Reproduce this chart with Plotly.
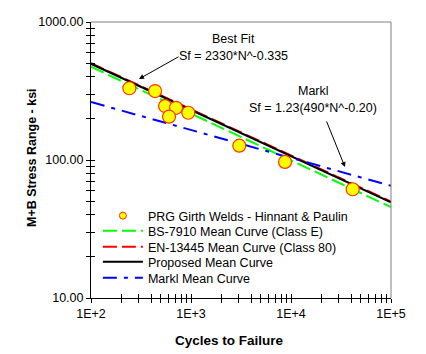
import plotly.graph_objects as go

# Test data: PRG girth welds (Hinnant & Paulin)
data_cycles = [242, 437, 550, 708, 603, 940, 3040, 8710, 41400]
data_stress = [331, 316, 246, 239, 206, 220, 127, 96.8, 61.4]

# Mean curves (endpoints read at N = 1E+2 and 1E+5)
curve_cycles = [100, 100000]
bs7910_stress = [474, 45.5]
en13445_stress = [503, 50.0]
proposed_stress = [498, 49.3]
markl_stress = [263, 65.0]

y_tickvals = [10, 100, 1000]
y_ticktext = ["10.00", "100.00", "1000.00"]
x_tickvals = [100, 1000, 10000, 100000]
x_ticktext = ["1E+2", "1E+3", "1E+4", "1E+5"]
y_minor = [m * 10 ** e for e in (1, 2) for m in range(2, 10)]
x_minor = [m * 10 ** e for e in (2, 3, 4) for m in range(2, 10)]

FONT = "Liberation Sans, Arial, sans-serif"
FS = 12.5

fig = go.Figure()

# legend proxy with small marker (first legend entry)
fig.add_trace(go.Scatter(x=[None], y=[None], mode="markers",
                         name="PRG Girth Welds - Hinnant & Paulin", legend="legend",
                         marker=dict(size=7, color="#FFFF00",
                                     line=dict(color="#FF3300", width=1))))
fig.add_trace(go.Scatter(x=curve_cycles, y=bs7910_stress, mode="lines",
                         name="BS-7910 Mean Curve (Class E)", legend="legend2",
                         line=dict(color="#00FF00", width=2, dash="14px,5px")))
fig.add_trace(go.Scatter(x=curve_cycles, y=en13445_stress, mode="lines",
                         name="EN-13445 Mean Curve (Class 80)", legend="legend3",
                         line=dict(color="#FF0000", width=2, dash="14px,5px")))
fig.add_trace(go.Scatter(x=curve_cycles, y=proposed_stress, mode="lines",
                         name="Proposed Mean Curve", legend="legend4",
                         line=dict(color="#000000", width=2)))
fig.add_trace(go.Scatter(x=curve_cycles, y=markl_stress, mode="lines",
                         name="Markl Mean Curve", legend="legend5",
                         line=dict(color="#0000FF", width=2, dash="14px,7px,4px,7px")))
fig.add_trace(go.Scatter(x=data_cycles, y=data_stress, mode="markers",
                         showlegend=False,
                         marker=dict(size=13, color="#FFFF00",
                                     line=dict(color="#FF3300", width=1.2))))
# invisible trace on overlay axes so they render
fig.add_trace(go.Scatter(x=[None], y=[None], xaxis="x2", yaxis="y2",
                         showlegend=False, hoverinfo="skip"))

axis_common = dict(showgrid=False, zeroline=False, ticklen=4, tickwidth=1,
                   tickcolor="black", automargin=False)


def leg(ypix):
    return dict(x=0.023, y=(298 - ypix) / 276, xanchor="left", yanchor="middle",
                bgcolor="rgba(0,0,0,0)", font=dict(size=FS, family=FONT),
                itemwidth=40)


fig.update_layout(
    width=426, height=354,
    margin=dict(l=91, r=35, t=22, b=56, autoexpand=False),
    paper_bgcolor="white", plot_bgcolor="white",
    font=dict(family=FONT, size=FS, color="black"),
    showlegend=True,
    legend=leg(216), legend2=leg(231), legend3=leg(247),
    legend4=leg(262), legend5=leg(278),
    xaxis=dict(type="log", range=[2, 5], tickvals=x_tickvals, ticktext=x_ticktext,
               ticks="outside", showline=True, linecolor="black", linewidth=1,
               minor=dict(tickvals=x_minor, ticks="outside", ticklen=4,
                          tickcolor="black"),
               **axis_common),
    yaxis=dict(type="log", range=[1, 3], tickvals=y_tickvals, ticktext=y_ticktext,
               ticks="outside", showline=True, linecolor="black", linewidth=1,
               minor=dict(tickvals=y_minor, ticks="outside", ticklen=4,
                          tickcolor="black"),
               **axis_common),
    xaxis2=dict(type="log", range=[2, 5], overlaying="x", anchor="y", side="bottom",
                tickvals=x_tickvals, ticks="inside", showticklabels=False,
                showline=False,
                minor=dict(tickvals=x_minor, ticks="inside", ticklen=4,
                           tickcolor="black"),
                **axis_common),
    yaxis2=dict(type="log", range=[1, 3], overlaying="y", anchor="x", side="left",
                tickvals=y_tickvals, ticks="inside", showticklabels=False,
                showline=False,
                minor=dict(tickvals=y_minor, ticks="inside", ticklen=4,
                           tickcolor="black"),
                **axis_common),
)

# axis titles
fig.add_annotation(x=(229 - 91) / 300, y=(298 - 340) / 276, xref="paper", yref="paper",
                   xanchor="center", yanchor="middle",
                   text="<b>Cycles to Failure</b>", showarrow=False,
                   font=dict(size=13.5))
fig.add_annotation(x=(32 - 91) / 300, y=(298 - 158) / 276, xref="paper", yref="paper",
                   xanchor="center", yanchor="middle",
                   text="<b>M+B Stress Range - ksi</b>", showarrow=False,
                   textangle=-90, font=dict(size=12.5))

# gray frame top and right
fig.add_shape(type="line", xref="paper", yref="paper", x0=0, x1=1, y0=1, y1=1,
              line=dict(color="#808080", width=1))
fig.add_shape(type="line", xref="paper", yref="paper", x0=1, x1=1, y0=0, y1=1,
              line=dict(color="#808080", width=1))

# annotations (log-axis coordinates are in log10 units)
fig.add_annotation(x=3.42, y=2.875, xref="x", yref="y", text="Best Fit",
                   showarrow=False, font=dict(size=FS))
fig.add_annotation(x=3.42, y=2.751, xref="x", yref="y", text="Sf = 2330*N^-0.335",
                   showarrow=False, font=dict(size=FS))
fig.add_annotation(x=4.22, y=2.498, xref="x", yref="y", text="Markl",
                   showarrow=False, font=dict(size=FS))
fig.add_annotation(x=4.22, y=2.375, xref="x", yref="y", text="Sf = 1.23(490*N^-0.20)",
                   showarrow=False, font=dict(size=FS))
fig.add_annotation(x=2.48, y=2.587, ax=2.89, ay=2.754, xref="x", yref="y",
                   axref="x", ayref="y", text="", showarrow=True,
                   arrowhead=2, arrowsize=1, arrowwidth=1, arrowcolor="black")
fig.add_annotation(x=4.54, y=1.949, ax=4.35, ay=2.290, xref="x", yref="y",
                   axref="x", ayref="y", text="", showarrow=True,
                   arrowhead=2, arrowsize=1, arrowwidth=1, arrowcolor="black")

fig.write_html("out.html")
